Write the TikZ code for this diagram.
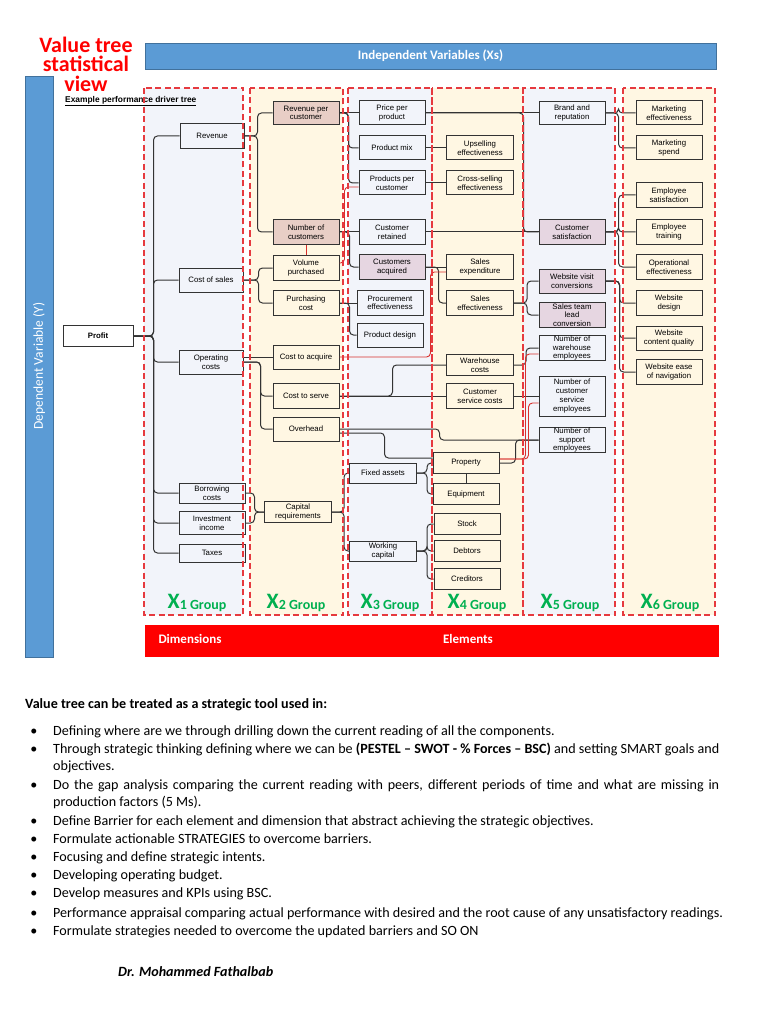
\documentclass[tikz,border=0pt]{standalone}
\usepackage{fontspec}
\setmainfont{Carlito}
\newfontfamily\boxfont{Liberation Sans}
\newcommand{\txtfont}{\fontsize{14.1}{18}\selectfont}

\definecolor{barblue}{HTML}{5B9BD5}
\definecolor{barline}{HTML}{41719C}
\definecolor{barred}{HTML}{FF0000}
\definecolor{grpred}{HTML}{E63A3F}
\definecolor{colblue}{HTML}{F2F4FA}
\definecolor{colcream}{HTML}{FFF7E3}
\definecolor{boxline}{HTML}{333333}
\definecolor{pinkfill}{HTML}{E8CEC6}
\definecolor{lilacfill}{HTML}{E6D6E1}
\definecolor{grpgreen}{HTML}{00B050}
\definecolor{linkred}{HTML}{D8302C}

\tikzstyle{tbox}=[draw=boxline, line width=1pt, minimum width=66pt, minimum height=24pt, inner sep=0pt, align=center, font=\boxfont\fontsize{7.8}{8.7}\selectfont]
\tikzstyle{bluebox}=[tbox, fill=colblue]
\tikzstyle{creambox}=[tbox, fill=colcream]
\tikzstyle{pinkbox}=[tbox, fill=pinkfill]
\tikzstyle{lilacbox}=[tbox, fill=lilacfill]
\tikzstyle{tlink}=[draw=boxline, line width=1pt, rounded corners=4pt]
\tikzstyle{rlink}=[draw=linkred, line width=0.9pt, rounded corners=4pt]
\tikzstyle{grpline}=[draw=grpred, dash pattern=on 6pt off 3.5pt, line width=1.1pt]
\tikzstyle{grplabel}=[text=grpgreen, font=\bfseries\fontsize{22}{22}\selectfont]
\tikzstyle{bandbox}=[draw=barline, fill=barblue, text=white, inner sep=0pt]
\tikzstyle{body}=[anchor=base west, inner sep=0pt, font=\txtfont]

\begin{document}
\begin{tikzpicture}[x=1pt,y=-1pt]
  \fill[white] (0,0) rectangle (768,1024);
  \useasboundingbox (0,0) rectangle (768,1024);

  % column backgrounds
  \fill[colblue]  (144,88) rectangle (243,615);
  \fill[colcream] (250,88) rectangle (343,615);
  \fill[colblue]  (348,88) rectangle (432,615);
  \fill[colcream] (432,88) rectangle (523,615);
  \fill[colblue]  (523,88) rectangle (615,615);
  \fill[colcream] (623,88) rectangle (715,615);

  % title and bands
  \node[text=barred, align=center, font=\bfseries\fontsize{22}{19.5}\selectfont] (title) at (86,64) {Value tree\\statistical\\view};
  \node[bandbox, minimum width=571pt, minimum height=26pt, font=\bfseries\fontsize{13}{13}\selectfont] (indep) at (430.5,56) {Independent Variables (Xs)};
  \draw[draw=barline, fill=barblue] (25,76) rectangle (53,657);
  \node[rotate=90, text=white, font=\fontsize{13.5}{13.5}\selectfont] (dep) at (39,366) {Dependent Variable (Y)};
  \fill[barred] (145,625) rectangle (719,657);
  \node[anchor=west, text=white, font=\bfseries\fontsize{13}{13}\selectfont] (dims) at (155,639) {Dimensions};
  \node[text=white, font=\bfseries\fontsize{13}{13}\selectfont] (elems) at (468,639) {Elements};
  \node[anchor=west, inner sep=0pt, font=\boxfont\bfseries\fontsize{8.4}{9}\selectfont] (extitle) at (65,101) {\underline{Example performance driver tree}};

  % Y
  \node[tbox, fill=white, minimum width=70pt, minimum height=21pt, font=\boxfont\bfseries\fontsize{7.8}{8.7}\selectfont] (profit) at (98,336) {Profit};

  % X1
  \node[bluebox, minimum width=64pt, minimum height=25pt] (rev) at (212,136) {Revenue};
  \node[bluebox, minimum width=64pt] (cos) at (211,280) {Cost of sales};
  \node[bluebox, minimum width=64pt] (opc) at (211,362) {Operating\\costs};
  \node[bluebox, minimum height=20pt] (brc) at (212,493) {Borrowing\\costs};
  \node[bluebox, minimum height=23pt] (inv) at (212,523) {Investment\\income};
  \node[bluebox, minimum height=18pt] (tax) at (212,553) {Taxes};

  % X2
  \node[pinkbox, minimum height=23pt] (rpc) at (306,113) {Revenue per\\customer};
  \node[pinkbox] (noc) at (306,232) {Number of\\customers};
  \node[creambox, minimum height=25pt] (vol) at (306,268) {Volume\\purchased};
  \node[creambox, minimum height=25pt] (pur) at (306,303) {Purchasing\\cost};
  \node[creambox] (cta) at (306,357) {Cost to acquire};
  \node[creambox, minimum height=25pt] (cts) at (306,396) {Cost to serve};
  \node[creambox] (ovh) at (306,429) {Overhead};
  \node[creambox, minimum width=67pt, minimum height=21pt] (cap) at (298,512) {Capital\\requirements};

  % X3
  \node[bluebox] (ppp) at (392,113) {Price per\\product};
  \node[bluebox] (mix) at (392,148) {Product mix};
  \node[bluebox] (ppc) at (392,183) {Products per\\customer};
  \node[bluebox] (ret) at (392,232) {Customer\\retained};
  \node[lilacbox, minimum height=25pt] (acq) at (392,267) {Customers\\acquired};
  \node[bluebox, minimum height=25pt] (prc) at (390,303) {Procurement\\effectiveness};
  \node[bluebox] (pdd) at (390,335) {Product design};
  \node[bluebox, minimum width=67pt, minimum height=20pt] (fxa) at (383,473) {Fixed assets};
  \node[bluebox, minimum width=67pt, minimum height=20pt] (wkc) at (383,551) {Working\\capital};

  % X4
  \node[creambox, minimum width=67pt] (ups) at (480,148) {Upselling\\effectiveness};
  \node[creambox, minimum width=67pt] (crs) at (480,183) {Cross-selling\\effectiveness};
  \node[creambox, minimum width=67pt, minimum height=25pt] (sex) at (480,267) {Sales\\expenditure};
  \node[creambox, minimum width=67pt, minimum height=25pt] (sef) at (480,303) {Sales\\effectiveness};
  \node[creambox, minimum width=67pt, minimum height=21pt] (whc) at (480,365) {Warehouse\\costs};
  \node[creambox, minimum width=67pt, minimum height=25pt] (csc) at (480,396) {Customer\\service costs};
  \node[creambox, minimum height=21pt] (prp) at (466,463) {Property};
  \node[creambox, minimum height=21pt] (eqp) at (466,494) {Equipment};
  \node[creambox, minimum height=21pt] (stk) at (467,524) {Stock};
  \node[creambox, minimum height=21pt] (dbt) at (467,551) {Debtors};
  \node[creambox, minimum height=21pt] (crd) at (467,579) {Creditors};

  % X5
  \node[bluebox, minimum height=23pt] (brd) at (572,113) {Brand and\\reputation};
  \node[lilacbox] (sat) at (572,232) {Customer\\satisfaction};
  \node[lilacbox] (wvc) at (572,281) {Website visit\\conversions};
  \node[lilacbox, minimum height=25pt] (stl) at (572,315) {Sales team\\lead\\conversion};
  \node[bluebox, minimum height=25pt] (nwe) at (572,348) {Number of\\warehouse\\employees};
  \node[bluebox, minimum height=40pt] (nce) at (572,396) {Number of\\customer\\service\\employees};
  \node[bluebox, minimum height=25pt] (nse) at (572,440) {Number of\\support\\employees};

  % X6
  \node[creambox] (mke) at (669,113) {Marketing\\effectiveness};
  \node[creambox] (mks) at (669,148) {Marketing\\spend};
  \node[creambox, minimum height=25pt] (ems) at (669,195) {Employee\\satisfaction};
  \node[creambox] (emt) at (669,232) {Employee\\training};
  \node[creambox, minimum height=25pt] (ope) at (669,267) {Operational\\effectiveness};
  \node[creambox, minimum height=25pt] (wsd) at (669,303) {Website\\design};
  \node[creambox] (wcq) at (669,338) {Website\\content quality};
  \node[creambox, minimum height=25pt] (wen) at (669,372) {Website ease\\of navigation};

  % tree links
  \foreach \n in {rev,cos,opc,brc,inv,tax}
    \draw[tlink] (profit.east) -- ++(20,0) |- (\n.west);
  \draw[tlink] (rev.east) -- ++(13,0) |- (rpc.west);
  \draw[tlink] (rev.east) -- ++(13,0) |- (noc.west);
  \draw[tlink] (cos.east) -- ++(15,0) |- (vol.west);
  \draw[tlink] (cos.east) -- ++(15,0) |- (pur.west);
  \draw[tlink] (opc.east |- cta.west) -- (cta.west);
  \draw[tlink] (opc.east) -- ++(17,0) |- (cts.west);
  \draw[tlink] (opc.east) -- ++(17,0) |- (ovh.west);
  \draw[tlink] (brc.east) -- ++(9,0) |- (cap.west);
  \draw[tlink] (inv.east) -- ++(9,0) |- (cap.west);

  \draw[tlink] (rpc.east) -- (ppp.west);
  \draw[tlink] (rpc.east) -- ++(9,0) |- (mix.west);
  \draw[tlink] (rpc.east) -- ++(9,0) |- (ppc.west);
  \draw[tlink] (noc.east) -- (ret.west);
  \draw[tlink] (noc.east) -- ++(10,0) |- (acq.west);
  \draw[tlink] (pur.east) -- (prc.west);
  \draw[tlink] (pur.east) -- ++(10,0) |- (pdd.west);
  \draw[tlink] (cts.east) -- (csc.west);
  \draw[tlink] (cts.east) -- ++(53,0) |- (whc.west);
  \draw[tlink] (ovh.east) -- ++(100,0) |- (nse.west);
  \draw[tlink] ([yshift=-4pt]ovh.east) -- ++(45,0) |- ([yshift=5pt]prp.west);
  \draw[tlink] (cap.east) -- ++(12,0) |- (fxa.west);
  \draw[tlink] (cap.east) -- ++(12,0) |- (wkc.west);

  \draw[tlink] (ppp.east) -- (brd.west);
  \draw[tlink] (ppp.east) -- ++(98,0) |- (sat.west);
  \draw[tlink] (ret.east) -- (sat.west);
  \draw[tlink] (mix.east) -- (ups.west);
  \draw[tlink] (ppc.east) -- (crs.west);
  \draw[tlink] (acq.east) -- (sex.west);
  \draw[tlink] (acq.east) -- ++(13,0) |- (sef.west);
  \draw[tlink] (fxa.east) -- ++(10,0) |- (prp.west);
  \draw[tlink] (fxa.east) -- ++(10,0) |- (eqp.west);
  \foreach \n in {stk,dbt,crd}
    \draw[tlink] (wkc.east) -- ++(10,0) |- (\n.west);
  \draw[tlink] (prp) -- (eqp);

  \draw[tlink] (sef.east) -- ++(13,0) |- (wvc.west);
  \draw[tlink] (sef.east) -- ++(13,0) |- (stl.west);
  \draw[tlink] (whc.east) -- ++(12,0) |- (nwe.west);
  \draw[tlink] (csc.east) -- (nce.west);
  \draw[tlink] (prp.east) -- ++(16,0) |- (nse.west);

  \draw[tlink] (brd.east) -- ++(13,0) |- (mke.west);
  \draw[tlink] (brd.east) -- ++(13,0) |- (mks.west);
  \foreach \n in {ems,emt,ope}
    \draw[tlink] (sat.east) -- ++(13,0) |- (\n.west);
  \foreach \n in {wsd,wcq,wen}
    \draw[tlink] (wvc.east) -- ++(14,0) |- (\n.west);

  % red links
  \draw[rlink] (noc) -- (vol);
  \draw[rlink] ([yshift=5pt]vol.east) -- ++(5,0) |- ([yshift=-4pt]ppc.west);
  \draw[rlink] (cta.east) -- ++(91,0) |- ([yshift=-5pt]sex.west);
  \draw[rlink] ([yshift=4pt]prp.east) -- ++(26,0) |- ([yshift=-6pt]nwe.west);
  \draw[rlink] ([yshift=4pt]prp.east) -- ++(29,0) |- ([yshift=-7pt]nce.west);

  % group frames
  \draw[grpline] (144,88) rectangle (243,615);
  \draw[grpline] (250,88) rectangle (343,615);
  \draw[grpline] (348,88) rectangle (432,615);
  \draw[grpline] (432,88) rectangle (523,615);
  \draw[grpline] (523,88) rectangle (615,615);
  \draw[grpline] (623,88) rectangle (715,615);
  \foreach \i/\x in {1/197,2/296,3/390,4/477,5/570,6/670}
    \node[grplabel] (grp\i) at (\x,603) {X\raisebox{-1.5pt}{\fontsize{14}{14}\selectfont\i\ Group}};

  % notes
  \node[body, font=\txtfont\bfseries] (head) at (25,708) {Value tree can be treated as a strategic tool used in:};
  \foreach \y [count=\i] in {735.5,753.5,789.5,825.5,843.5,861.5,879.5,897.5,917.5,935.5}
    \node[anchor=base, inner sep=0pt, font=\txtfont] (bul\i) at (34,\y) {\textbullet};
  \node[body] (l1) at (53,735.5) {Defining where are we through drilling down the current reading of all the components.};
  \node[body] (l2) at (53,753.5) {\makebox[666pt][s]{Through strategic thinking defining where we can be \textbf{(PESTEL – SWOT - \% Forces – BSC)} and setting SMART goals and}};
  \node[body] (l3) at (53,770.5) {objectives.};
  \node[body] (l4) at (53,789.5) {\makebox[666pt][s]{Do the gap analysis comparing the current reading with peers, different periods of time and what are missing in}};
  \node[body] (l5) at (53,806.5) {production factors (5 Ms).};
  \node[body] (l6) at (53,825.5) {Define Barrier for each element and dimension that abstract achieving the strategic objectives.};
  \node[body] (l7) at (53,843.5) {Formulate actionable STRATEGIES to overcome barriers.};
  \node[body] (l8) at (53,861.5) {Focusing and define strategic intents.};
  \node[body] (l9) at (53,879.5) {Developing operating budget.};
  \node[body] (l10) at (53,897.5) {Develop measures and KPIs using BSC.};
  \node[body] (l11) at (53,917.5) {Performance appraisal comparing actual performance with desired and the root cause of any unsatisfactory readings.};
  \node[body] (l12) at (53,935.5) {Formulate strategies needed to overcome the updated barriers and SO ON};
  \node[body, font=\txtfont\bfseries\itshape] (sign) at (118,976) {Dr. Mohammed Fathalbab};
\end{tikzpicture}
\end{document}
